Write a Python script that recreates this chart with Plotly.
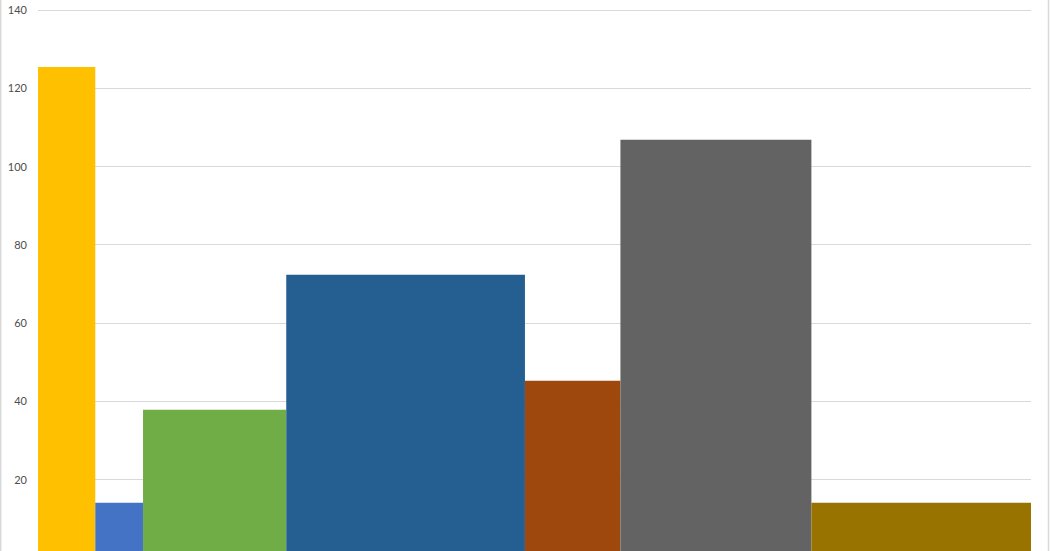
import plotly.graph_objects as go
import numpy as np

categories = ["A", "B", "C", "D", "E", "F", "G"]
values = [125.5, 14.1, 37.9, 72.4, 45.3, 106.9, 14.1]
widths = [12, 10, 30, 50, 20, 40, 46]
colors = ["#FFC000", "#4472C4", "#70AD47", "#255E91", "#9E480E", "#636363", "#997300"]
tick_vals = [20, 40, 60, 80, 100, 120, 140]

edges = np.concatenate([[0], np.cumsum(widths)])
centers = (edges[:-1] + edges[1:]) / 2

fig = go.Figure(go.Bar(
    x=centers, y=values, width=widths,
    marker=dict(color=colors, line=dict(width=0)),
    text=categories, textposition="none", hoverinfo="y",
))

fig.update_layout(
    width=1050, height=551,
    margin=dict(l=38, r=19, t=9, b=0),
    paper_bgcolor="white", plot_bgcolor="white",
    showlegend=False,
    xaxis=dict(range=[0, float(edges[-1])], showticklabels=False, showgrid=False,
               zeroline=False, showline=False),
    yaxis=dict(range=[1.8, 140.3], tickvals=tick_vals, showgrid=True,
               gridcolor="#D9D9D9", gridwidth=1, zeroline=False, showline=False,
               tickfont=dict(family="Lato, Carlito, sans-serif", size=11, color="#4D4D4D"),
               ticklabelstandoff=10),
    shapes=[
        dict(type="line", xref="paper", yref="paper", x0=-37.3/993, x1=-37.3/993,
             y0=-0.1, y1=1.1, line=dict(color="#D9D9D9", width=1.5)),
        dict(type="line", xref="paper", yref="paper", x0=1010.5/993, x1=1010.5/993,
             y0=-0.1, y1=1.1, line=dict(color="#D9D9D9", width=1.5)),
    ],
)

fig.write_html("out.html", config={"displayModeBar": False},
               post_script="document.body.style.margin='0';document.body.style.overflow='hidden';")
